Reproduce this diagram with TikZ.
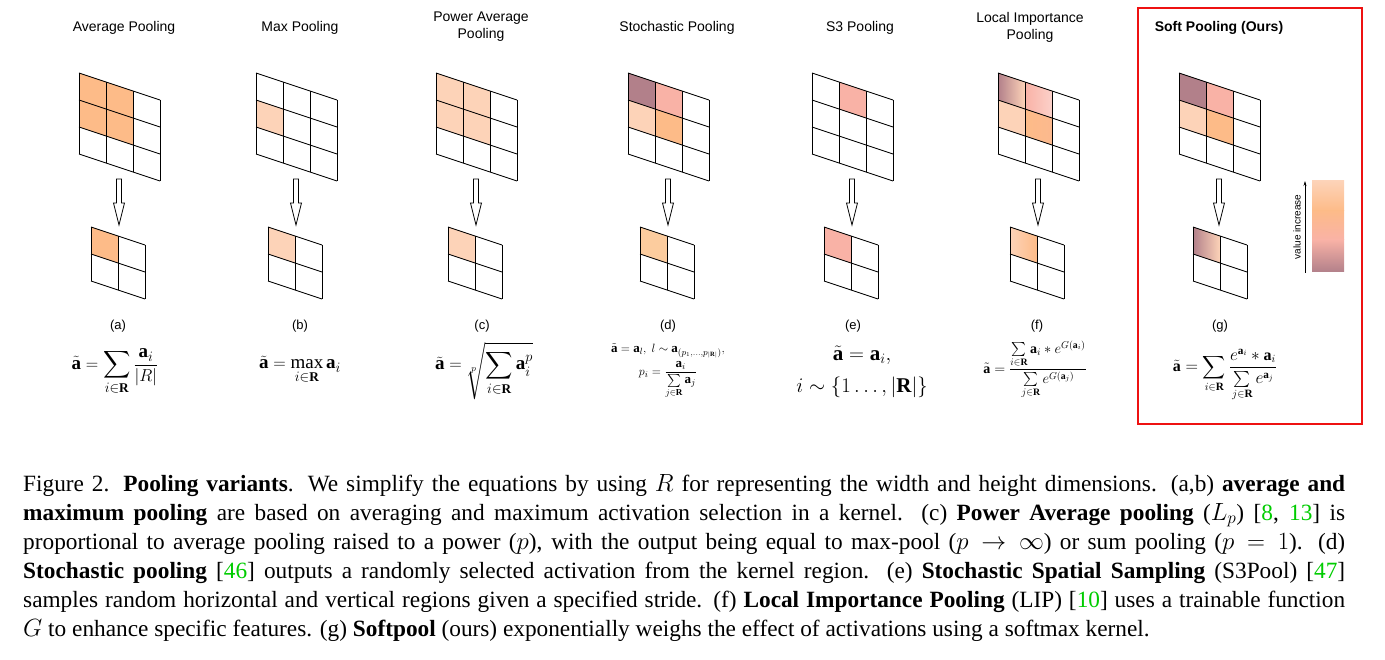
\documentclass[tikz,border=0pt]{standalone}
\usetikzlibrary{arrows.meta}
\usepackage{amsmath,amssymb}
\usepackage{fontspec}
\setmainfont{Liberation Serif}
\setsansfont{Liberation Sans}
\definecolor{orng}{HTML}{FDBB88}
\definecolor{peach}{HTML}{FDD3B8}
\definecolor{mauve}{HTML}{B2808A}
\definecolor{pinkc}{HTML}{F9B2A6}
\definecolor{ltor}{HTML}{FCCC9E}
\definecolor{cgreen}{HTML}{00CC00}
\definecolor{boxred}{HTML}{EE1111}
\newcommand\pgrid[3]{%
  \foreach \i in {0,...,#3}{\draw[gridl] (#1+27*\i,#2+9*\i) -- ++(0,27*#3);}%
  \foreach \j in {0,...,#3}{\draw[gridl] (#1,#2+27*\j) -- ++(27*#3,9*#3);}}
\newcommand\pcell[5]{\path[#5] (#1+27*#3,#2+9*#3+27*#4) -- ++(27,9) -- ++(0,27) -- ++(-27,-9) -- cycle;}
\newcommand\parr[2]{%
  \coordinate (#2) at (#1,179);
  \draw[arrl] (#2) ++(-2.5,0) -- ++(0,24) -- ++(-3,0) -- ++(5.5,22) -- ++(5.5,-22) -- ++(-3,0) -- ++(0,-24) -- cycle;}
\newcommand\gc[1]{\textcolor{cgreen}{#1}}
\begin{document}
\begin{tikzpicture}[x=1pt,y=-1pt,
  gridl/.style={black,line width=0.9pt},
  arrl/.style={black,line width=0.8pt,fill=white},
  ttl/.style={font=\sffamily\fontsize{14}{17}\selectfont,align=center},
  lbl/.style={font=\sffamily\fontsize{13}{15}\selectfont},
  fml/.style={font=\fontsize{19}{23}\selectfont}]
\useasboundingbox (0,0) rectangle (1385,660);
% titles
\node[ttl] (t1) at (124,28) {Average Pooling};
\node[ttl] (t2) at (300,28) {Max Pooling};
\node[ttl] (t3) at (481,27) {Power Average\\Pooling};
\node[ttl] (t4) at (677,28) {Stochastic Pooling};
\node[ttl] (t5) at (860,28) {S3 Pooling};
\node[ttl] (t6) at (1030,27) {Local Importance\\Pooling};
\node[ttl,font=\sffamily\bfseries\fontsize{14}{17}\selectfont] (t7) at (1219,28) {Soft Pooling (Ours)};
% (a)
\pcell{79}{73}{0}{0}{fill=orng}\pcell{79}{73}{1}{0}{fill=orng}\pcell{79}{73}{0}{1}{fill=orng}\pcell{79}{73}{1}{1}{fill=orng}
\pgrid{79}{73}{3}
\parr{119}{ar1}
\pcell{91}{227}{0}{0}{fill=orng}\pgrid{91}{227}{2}
% (b)
\pcell{256}{73}{0}{1}{fill=peach}\pgrid{256}{73}{3}
\parr{296}{ar2}
\pcell{268}{227}{0}{0}{fill=peach}\pgrid{268}{227}{2}
% (c)
\pcell{436}{73}{0}{0}{fill=peach}\pcell{436}{73}{1}{0}{fill=peach}\pcell{436}{73}{0}{1}{fill=peach}\pcell{436}{73}{1}{1}{fill=peach}
\pgrid{436}{73}{3}
\parr{476}{ar3}
\pcell{448}{227}{0}{0}{fill=peach}\pgrid{448}{227}{2}
% (d)
\pcell{628}{73}{0}{0}{fill=mauve}\pcell{628}{73}{1}{0}{fill=pinkc}\pcell{628}{73}{0}{1}{fill=peach}\pcell{628}{73}{1}{1}{fill=orng}
\pgrid{628}{73}{3}
\parr{668}{ar4}
\pcell{640}{227}{0}{0}{fill=ltor}\pgrid{640}{227}{2}
% (e)
\pcell{812}{73}{1}{0}{fill=pinkc}\pgrid{812}{73}{3}
\parr{852}{ar5}
\pcell{824}{227}{0}{0}{fill=pinkc}\pgrid{824}{227}{2}
% (f)
\pcell{998}{73}{0}{0}{left color=mauve,right color=peach}\pcell{998}{73}{1}{0}{left color=pinkc,right color=pinkc!60}\pcell{998}{73}{0}{1}{fill=peach}\pcell{998}{73}{1}{1}{left color=orng,right color=orng!80!pinkc}
\pgrid{998}{73}{3}
\parr{1038}{ar6}
\pcell{1010}{227}{0}{0}{left color=peach,right color=orng}\pgrid{1010}{227}{2}
% (g)
\pcell{1179}{73}{0}{0}{fill=mauve}\pcell{1179}{73}{1}{0}{fill=pinkc}\pcell{1179}{73}{0}{1}{fill=peach}\pcell{1179}{73}{1}{1}{fill=orng}
\pgrid{1179}{73}{3}
\parr{1219}{ar7}
\pcell{1193}{227}{0}{0}{left color=mauve,right color=peach}\pgrid{1193}{227}{2}
% colour bar
\shade[top color=peach,bottom color=orng] (1312,181) rectangle (1344,211);
\shade[top color=orng,bottom color=pinkc] (1312,210.5) rectangle (1344,240);
\shade[top color=pinkc,bottom color=mauve] (1312,239.5) rectangle (1344,272);
\coordinate (vb) at (1305,273);
\coordinate (vt) at (1305,181);
\draw[-{Stealth[length=5pt,width=3pt]},line width=0.6pt] (vb) -- (vt);
\node[font=\sffamily\fontsize{10}{12}\selectfont,rotate=90] (vi) at (1297,227) {value increase};
% box
\node[draw=boxred,line width=1.4pt,minimum width=224pt,minimum height=416pt,inner sep=0] (box) at (1250,216) {};
% labels
\node[lbl] (la) at (118,326) {(a)};
\node[lbl] (lb) at (300,326) {(b)};
\node[lbl] (lc) at (482,326) {(c)};
\node[lbl] (ld) at (668,326) {(d)};
\node[lbl] (le) at (853,326) {(e)};
\node[lbl] (lf) at (1037,326) {(f)};
\node[lbl] (lg) at (1220,326) {(g)};
% formulas
\node[fml] (fa) at (115,372) {$\displaystyle\tilde{\mathbf a}=\sum_{i\in\mathbf R}\frac{\mathbf a_i}{|R|}$};
\node[fml] (fb) at (300,370) {$\displaystyle\tilde{\mathbf a}=\max_{i\in\mathbf R}\mathbf a_i$};
\node[fml] (fc) at (484,371) {$\displaystyle\tilde{\mathbf a}=\sqrt[p]{\sum_{i\in\mathbf R}\mathbf a_i^p}$};
\node[font=\fontsize{13}{15}\selectfont,align=center] (fd) at (668,371) {$\tilde{\mathbf a}=\mathbf a_l,\ l\sim\mathbf a_{(p_1,\ldots,p_{|\mathbf R|})},$\\[2pt] $\displaystyle p_i=\frac{\mathbf a_i}{\sum\limits_{j\in\mathbf R}\mathbf a_j}$};
\node[font=\fontsize{21}{26}\selectfont,align=center] (fe) at (862,372) {$\tilde{\mathbf a}=\mathbf a_i,$\\[6pt]$i\sim\{1\ldots,|\mathbf R|\}$};
\node[font=\fontsize{14}{17}\selectfont] (ff) at (1035,370) {$\tilde{\mathbf a}=\dfrac{\sum\limits_{i\in\mathbf R}\mathbf a_i*e^{G(\mathbf a_i)}}{\sum\limits_{j\in\mathbf R}e^{G(\mathbf a_j)}}$};
\node[font=\fontsize{16}{19}\selectfont] (fg) at (1225,375) {$\displaystyle\tilde{\mathbf a}=\sum_{i\in\mathbf R}\frac{e^{\mathbf a_i}*\mathbf a_i}{\sum\limits_{j\in\mathbf R}e^{\mathbf a_j}}$};
% caption
\node[anchor=north west,inner sep=0,text width=1322pt,align=justify,font=\fontsize{23.3}{29}\selectfont] (cap) at (23,474) {Figure 2. \textbf{Pooling variants}. We simplify the equations by using $R$ for representing the width and height dimensions. (a,b) \textbf{average and}\linebreak \textbf{maximum pooling} are based on averaging and maximum activation selection in a kernel. (c) \textbf{Power Average pooling} ($L_p$) [\gc{8}, \gc{13}] is\linebreak proportional to average pooling raised to a power ($p$), with the output being equal to max-pool ($p\rightarrow\infty$) or sum pooling ($p=1$). (d)\linebreak \textbf{Stochastic pooling} [\gc{46}] outputs a randomly selected activation from the kernel region. (e) \textbf{Stochastic Spatial Sampling} (S3Pool) [\gc{47}]\linebreak samples random horizontal and vertical regions given a specified stride. (f) \textbf{Local Importance Pooling} (LIP) [\gc{10}] uses a trainable function\linebreak $G$ to enhance specific features. (g) \textbf{Softpool} (ours) exponentially weighs the effect of activations using a softmax kernel.};
\end{tikzpicture}
\end{document}
